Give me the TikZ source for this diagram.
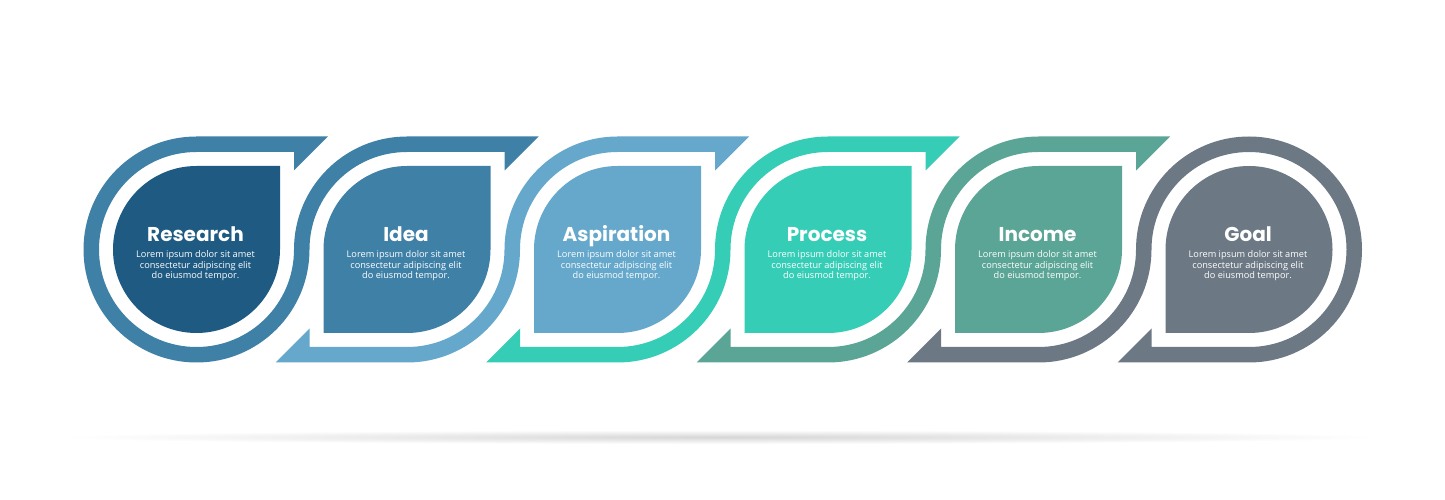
\documentclass[tikz,border=0pt]{standalone}
\usepackage{fontspec}
\setmainfont{Open Sans}
\newfontfamily\titlefont{Poppins}
\definecolor{cA}{HTML}{1E5A82}
\definecolor{cB}{HTML}{3F80A7}
\definecolor{cC}{HTML}{65A8CB}
\definecolor{cD}{HTML}{36CDB7}
\definecolor{cE}{HTML}{5BA596}
\definecolor{cF}{HTML}{6C7884}
\newcommand\cy{250.5}
% middle band: #1 = centre of left fill, #2 = colour
\newcommand\bandmid[2]{%
  \fill[#2] ({#1-131.5},{\cy-113}) -- ({#1},{\cy-113})
    arc[start angle=-90,end angle=0,radius=113]
    arc[start angle=180,end angle=90,radius=97.5]
    -- ({#1+210.5+97.5},{\cy+97.5}) -- ({#1+210.5+97.5},{\cy+79})
    -- ({#1+210.5+131.5},{\cy+113}) -- ({#1+210.5},{\cy+113})
    arc[start angle=90,end angle=180,radius=113]
    arc[start angle=0,end angle=-90,radius=97.5]
    -- ({#1-97.5},{\cy-97.5}) -- ({#1-97.5},{\cy-79}) -- cycle;}
% leaf fill with square TR and BL corners
\newcommand\leaffill[2]{%
  \fill[#2] ({#1-83.5},{\cy-83.5}) -- ({#1-83.5},{\cy})
    arc[start angle=180,end angle=90,radius=83.5]
    -- ({#1+83.5},{\cy+83.5}) -- ({#1+83.5},{\cy})
    arc[start angle=0,end angle=-90,radius=83.5] -- cycle;}
\tikzset{
  ttl/.style={text=white,font=\titlefont\bfseries\fontsize{20}{22}\selectfont,anchor=base},
  txt/.style={text=white,font=\fontsize{9.2}{10.6}\selectfont,align=center,anchor=north,inner sep=0pt}
}
\begin{document}
\begin{tikzpicture}[x=1pt,y=1pt]
\useasboundingbox (0,0) rectangle (1445,500);
\fill[white] (0,0) rectangle (1445,500);
% shadow
\shade[inner color=black!16,outer color=white] (722,63) ellipse[x radius=660,y radius=7];
% band 1 (around Research, into Idea)
\fill[cB] ({196.5+97.5},{\cy+79}) -- ({196.5+131.5},{\cy+113}) -- (196.5,{\cy+113})
  arc[start angle=90,end angle=360,radius=113]
  arc[start angle=180,end angle=90,radius=97.5]
  -- ({407+97.5},{\cy+97.5}) -- ({407+97.5},{\cy+79})
  -- ({407+131.5},{\cy+113}) -- (407,{\cy+113})
  arc[start angle=90,end angle=180,radius=113]
  arc[start angle=0,end angle=-270,radius=97.5]
  -- ({196.5+97.5},{\cy+97.5}) -- cycle;
\bandmid{407}{cC}
\bandmid{617.5}{cD}
\bandmid{828}{cE}
% band 5 (from Income around Goal)
\fill[cF] ({1038.5-131.5},{\cy-113}) -- (1038.5,{\cy-113})
  arc[start angle=-90,end angle=0,radius=113]
  arc[start angle=180,end angle=-90,radius=97.5]
  -- ({1249-97.5},{\cy-97.5}) -- ({1249-97.5},{\cy-79})
  -- ({1249-131.5},{\cy-113}) -- (1249,{\cy-113})
  arc[start angle=-90,end angle=180,radius=113]
  arc[start angle=0,end angle=-90,radius=97.5]
  -- ({1038.5-97.5},{\cy-97.5}) -- ({1038.5-97.5},{\cy-79}) -- cycle;
% fills
\fill[cA] (196.5,{\cy+83.5}) arc[start angle=90,end angle=360,radius=83.5]
  -- ({196.5+83.5},{\cy+83.5}) -- cycle;
\leaffill{407}{cB}
\leaffill{617.5}{cC}
\leaffill{828}{cD}
\leaffill{1038.5}{cE}
\fill[cF] ({1249-83.5},{\cy-83.5}) -- ({1249-83.5},{\cy})
  arc[start angle=180,end angle=-90,radius=83.5] -- cycle;
% texts
\foreach \c/\t/\n in {196.5/Research/a,407/Idea/b,617.5/Aspiration/c,828/Process/d,1038.5/Income/e,1249/Goal/f}{
  \node[ttl] (t\n) at ({\c-1},{\cy+8}) {\t};
  \node[txt] (b\n) at ({\c-1},{\cy-1}) {Lorem ipsum dolor sit amet\\consectetur adipiscing elit\\do eiusmod tempor.};
}
\end{tikzpicture}
\end{document}
